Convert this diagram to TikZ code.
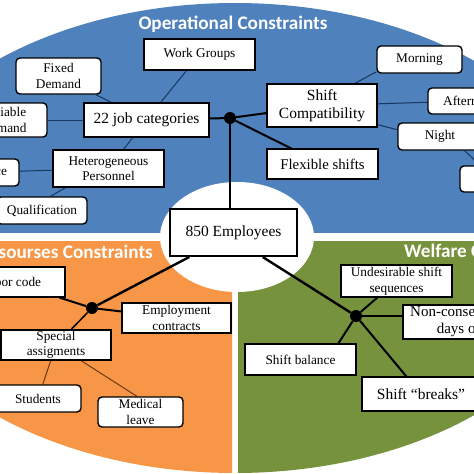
\documentclass[tikz,border=0pt]{standalone}
\usepackage{fontspec}
\setmainfont{Liberation Serif}
\newfontfamily\titlefont{Carlito}
\usetikzlibrary{backgrounds}
\definecolor{opblue}{HTML}{4F81BD}
\definecolor{resorange}{HTML}{F79646}
\definecolor{welgreen}{HTML}{76923C}
\definecolor{opline}{HTML}{17375E}
\definecolor{resline}{HTML}{6B3A12}
\tikzset{
  % rutor
  sq/.style={draw=black,fill=white,line width=1.1pt,inner sep=1pt,align=center,
             font=\fontsize{13.3}{15.5}\selectfont},
  rsq/.style={sq,rounded corners=4pt,line width=1.4pt},
  big/.style={font=\fontsize{15.5}{17.5}\selectfont},
  hub/.style={circle,fill=black,inner sep=0pt,minimum size=12pt},
  ttl/.style={text=white,inner sep=0pt,
              font=\titlefont\bfseries\fontsize{19.2}{22}\selectfont},
  % linjer
  trunk/.style={draw=black,line width=2.4pt},
  twig/.style={draw=black,line width=2pt},
  thinop/.style={draw=opline,line width=1pt},
  thinres/.style={draw=resline,line width=1pt},
}

\begin{document}
\begin{tikzpicture}[x=1pt,y=-1pt]
  \useasboundingbox (0,0) rectangle (474,474);
  \clip (0,0) rectangle (474,474);
  \node[ttl] (optitle) at (233,24) {Operational Constraints};
  \node[ttl,anchor=east] (restitle) at (153,252) {Resourses Constraints};
  \node[ttl,anchor=west] (weltitle) at (404,251) {Welfare Constraints};
  \node[sq,big,line width=2pt,minimum width=127pt,minimum height=47pt] (employees) at (233.5,232.5) {850 Employees};
  \node[hub] (opdot) at (230,118) {};
  \node[hub] (resdot) at (92,308) {};
  \node[hub] (weldot) at (356,316) {};
  \node[sq,big,minimum width=125pt,minimum height=34pt] (jobcat) at (146.5,120) {22 job categories};
  \node[sq,minimum width=111pt,minimum height=31pt] (workgrp) at (199.5,54.5) {Work Groups};
  \node[rsq,minimum width=85pt,minimum height=36pt] (fixdem) at (58.5,76) {Fixed\\Demand};
  \node[rsq,minimum width=86pt,minimum height=34pt] (vardem) at (4,120) {Variable\\Demand};
  \node[sq,minimum width=111pt,minimum height=37pt] (hetero) at (108.5,168.5) {Heterogeneous\\Personnel};
  \node[rsq,minimum width=84pt,minimum height=27pt] (expbox) at (-23,172.5) {Experience};
  \node[rsq,minimum width=90pt,minimum height=27pt] (qualif) at (42,210.5) {Qualification};
  \node[sq,big,minimum width=110pt,minimum height=43pt] (shiftcomp) at (322,105.5) {Shift\\Compatibility};
  \node[rsq,minimum width=85pt,minimum height=27pt] (morning) at (419.5,59.5) {Morning};
  \node[rsq,minimum width=85pt,minimum height=26pt] (afternoon) at (470.5,101) {Afternoon};
  \node[rsq,minimum width=84pt,minimum height=27pt] (night) at (440,136.5) {Night};
  \node[rsq,minimum width=84pt,minimum height=26pt] (rightbox) at (502,179) {};
  \node[sq,font=\fontsize{14.8}{17}\selectfont,minimum width=111pt,minimum height=30pt] (flexible) at (322.5,164) {Flexible shifts};
  \node[sq,minimum width=108pt,minimum height=30pt] (laborcode) at (11,282) {Labor code};
  \node[sq,minimum width=109pt,minimum height=30pt] (employment) at (176.5,318) {Employment\\contracts};
  \node[sq,minimum width=110pt,minimum height=30pt] (special) at (56,345) {Special\\assigments};
  \node[rsq,minimum width=86pt,minimum height=27pt] (students) at (38,398.5) {Students};
  \node[rsq,minimum width=85pt,minimum height=30pt] (medical) at (140.5,412) {Medical\\leave};
  \node[sq,minimum width=111pt,minimum height=32pt] (undesirable) at (396.5,281) {Undesirable shift\\sequences};
  \node[sq,font=\fontsize{15}{17}\selectfont,minimum width=116pt,minimum height=34pt] (nonconsec) at (461,322) {Non-consecutive\\days off};
  \node[sq,minimum width=111pt,minimum height=31pt] (shiftbal) at (300.5,359.5) {Shift balance};
  \node[sq,big,minimum width=118pt,minimum height=34pt] (breaks) at (421,394) {Shift “breaks”};
  \begin{scope}[on background layer]
  \clip (0,0) rectangle (474,474);
  \begin{scope}
    \clip (-200,-20) rectangle (700,232);
    \fill[opblue] (235,238) ellipse [x radius=364, y radius=235];
  \end{scope}
  \begin{scope}
    \clip (-200,241) rectangle (232,500);
    \fill[resorange] (235,238) ellipse [x radius=364, y radius=235];
  \end{scope}
  \begin{scope}
    \clip (238,241) rectangle (700,500);
    \fill[welgreen] (235,238) ellipse [x radius=364, y radius=235];
  \end{scope}
  \fill[white] (237,237) ellipse [x radius=77, y radius=55];
  \draw[trunk] (opdot) -- (opdot |- employees.north);
  \draw[trunk] (employees.209.5) -- (resdot);
  \draw[trunk] (employees.-40) -- (weldot);
  \draw[twig] (opdot) -- (jobcat);
  \draw[twig] (opdot) -- (shiftcomp);
  \draw[twig] (opdot) -- (flexible);
  \draw[thinop] (jobcat) -- (workgrp);
  \draw[thinop] (jobcat) -- (fixdem);
  \draw[thinop] (jobcat) -- (vardem);
  \draw[thinop] (jobcat) -- (hetero);
  \draw[thinop] (hetero) -- (expbox);
  \draw[thinop] (hetero.204) -- (qualif.59);
  \draw[thinop] (shiftcomp.34) -- (morning.196.4);
  \draw[thinop] (shiftcomp) -- (afternoon);
  \draw[thinop] (shiftcomp.-19.5) -- (night.171);
  \draw[thinop] (night.-30.4) -- (rightbox.148);
  \draw[twig] (resdot) -- (laborcode);
  \draw[twig] (resdot) -- (employment);
  \draw[twig,line width=1.5pt] (resdot) -- (special);
  \draw[thinres] (special) -- (students);
  \draw[thinres] (special.-32) -- (medical.103);
  \draw[twig] (weldot) -- (undesirable);
  \draw[twig] (weldot) -- (weldot -| nonconsec.west);
  \draw[twig] (weldot) -- (shiftbal.23.6);
  \draw[twig] (weldot) -- (breaks);
  \end{scope}
\end{tikzpicture}
\end{document}
